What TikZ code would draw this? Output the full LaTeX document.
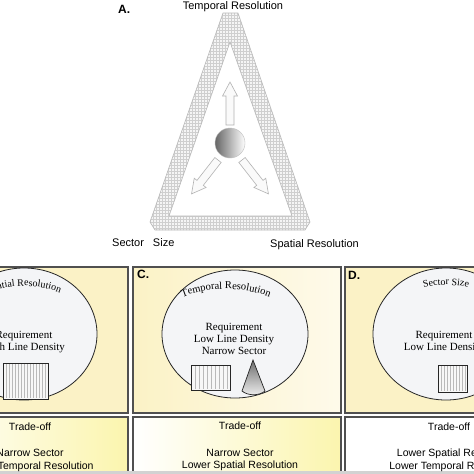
\documentclass[tikz,border=0pt]{standalone}
\usepackage{fontspec}
\setmainfont{Liberation Serif}
\newfontfamily\arialf{Liberation Sans}
\usetikzlibrary{patterns,decorations.text}
\definecolor{paneyel}{HTML}{FBF2C6}
\definecolor{paneyellight}{HTML}{FEFAEA}
\definecolor{lowyel}{HTML}{FBF5AE}
\definecolor{lensfill}{HTML}{F4F5F7}
\definecolor{framegray}{HTML}{505050}
\begin{document}
\begin{tikzpicture}[x=1pt,y=-1pt,
  panelbox/.style={draw=framegray, line width=1.1pt},
  lens/.style={draw=gray!30!black, line width=0.8pt, fill=lensfill},
  sanslbl/.style={font=\arialf\fontsize{11}{13}\selectfont, inner sep=0pt},
  tradelbl/.style={font=\arialf\fontsize{10.5}{12.6}\selectfont, inner sep=0pt, align=center},
  reqlbl/.style={font=\fontsize{11}{12}\selectfont, inner sep=0pt, align=center},
  panelletter/.style={font=\arialf\bfseries\fontsize{12}{14}\selectfont, inner sep=0pt, anchor=base west},
  blockarr/.style={fill=gray!4, draw=gray!60, line width=0.6pt},
  linebox/.style={draw=gray!30!black, line width=0.8pt, fill=gray!6},
  densel/.style={draw=gray!55, line width=0.5pt},
  arrowpic/.pic={\draw[blockarr] (0,-4)--(29,-4)--(29,-7.5)--(43,0)--(29,7.5)--(29,4)--(0,4)--cycle;}
]
\path[use as bounding box, clip] (0,0) rectangle (474,474);
\fill[white] (0,0) rectangle (474,474);

% ---------- Panel A ----------
\node[panelletter] (la) at (118,13) {A.};
\node[sanslbl, anchor=base] (ttop) at (233,9.5) {Temporal Resolution};
\node[sanslbl, anchor=base west] (tsec) at (112,246) {Sector\hspace{9pt}Size};
\node[sanslbl, anchor=base west] (tspa) at (270,247) {Spatial Resolution};

\path[fill=gray!8, even odd rule] (223,13) -- (238,13) -- (310,222) -- (305,230) -- (155,230) -- (150,222) -- cycle
  (230,42) -- (292,216) -- (169,216) -- cycle;
\path[pattern=grid, pattern color=gray!38, even odd rule] (223,13) -- (238,13) -- (310,222) -- (305,230) -- (155,230) -- (150,222) -- cycle
  (230,42) -- (292,216) -- (169,216) -- cycle;
\draw[gray!55, line width=0.6pt] (223,13) -- (238,13) -- (310,222) -- (305,230) -- (155,230) -- (150,222) -- cycle;
\draw[gray!55, line width=0.6pt] (230,42) -- (292,216) -- (169,216) -- cycle;

\pic[rotate=90] at (230,125) {arrowpic};
\pic[rotate=-128] at (218,160) {arrowpic};
\pic[rotate=-52] at (242,160) {arrowpic};
\shade[left color=gray!80!black, right color=white] (230,143) circle[radius=15];
\draw[gray!50, line width=0.4pt] (230,143) circle[radius=15];

% ---------- panel boxes ----------
\draw[panelbox, fill=paneyel] (-80,267) rectangle (128,413);
\draw[panelbox, left color=paneyel, right color=paneyellight] (133,267) rectangle (341,413);
\draw[panelbox, fill=paneyel] (345,267) rectangle (560,413);
\draw[panelbox, left color=white, right color=lowyel] (-80,417) rectangle (128,490);
\draw[panelbox, left color=white, right color=lowyel] (133,417) rectangle (341,490);
\draw[panelbox, fill=white] (345,417) rectangle (560,490);
\fill[gray!35] (-5,471) rectangle (480,474);

\node[panelletter] (lc) at (137,278) {C.};
\node[panelletter] (ld) at (348,279) {D.};

% ---------- panel B ----------
\draw[lens] (24,334) ellipse[x radius=73, y radius=66];
\path[decorate, decoration={text along path, text align=center,
  text={|\fontsize{10}{12}\selectfont|Spatial Resolution}}] (24,386) ++(200:100) arc[start angle=200, end angle=340, radius=100];
\node[reqlbl] (reqb) at (24,342) {Requirement\\High Line Density};
\draw[linebox] (3,363) rectangle (48,399);
\foreach \xx in {6,9,...,45} \draw[densel] (\xx,364) -- (\xx,398);
\node[tradelbl, anchor=base] (tob) at (30,430) {Trade-off};
\node[tradelbl, anchor=base] (tb1) at (30,456) {Narrow Sector};
\node[tradelbl, anchor=base] (tb2) at (30,469) {Lower Temporal Resolution};

% ---------- panel C ----------
\draw[lens] (235,334) ellipse[x radius=73, y radius=64];
\path[decorate, decoration={text along path, text align=center,
  text={|\fontsize{10.5}{13}\selectfont|Temporal Resolution}}] (226,409) ++(207:120) arc[start angle=207, end angle=333, radius=120];
\node[reqlbl] (reqc) at (234,339) {Requirement\\Low Line Density\\Narrow Sector};
\draw[linebox] (191,365) rectangle (230,390);
\foreach \xx in {195,199,...,227} \draw[densel] (\xx,366) -- (\xx,389);
\shade[top color=gray!85!black, bottom color=gray!12] (253,360) -- (242,391) .. controls (248,396) and (259,396) .. (265,391) -- cycle;
\draw[gray!30!black, line width=0.7pt] (253,360) -- (242,391) .. controls (248,396) and (259,396) .. (265,391) -- cycle;
\node[tradelbl, anchor=base] (toc) at (240,429) {Trade-off};
\node[tradelbl, anchor=base] (tc1) at (240,456) {Narrow Sector};
\node[tradelbl, anchor=base] (tc2) at (240,468) {Lower Spatial Resolution};

% ---------- panel D ----------
\draw[lens] (446,334) ellipse[x radius=73, y radius=66];
\path[decorate, decoration={text along path, text align=center,
  text={|\fontsize{10}{12}\selectfont|Sector Size}}] (446,385) ++(220:100) arc[start angle=220, end angle=320, radius=100];
\node[reqlbl] (reqd) at (444,342.5) {Requirement\\Low Line Density};
\draw[linebox] (438,365) rectangle (467,392);
\foreach \xx in {441,444,...,465} \draw[densel] (\xx,366) -- (\xx,391);
\node[tradelbl, anchor=base] (tod) at (449,430) {Trade-off};
\node[tradelbl, anchor=base] (td1) at (455,456) {Lower Spatial Resolution};
\node[tradelbl, anchor=base] (td2) at (453,469) {Lower Temporal Resolution};
\end{tikzpicture}
\end{document}
